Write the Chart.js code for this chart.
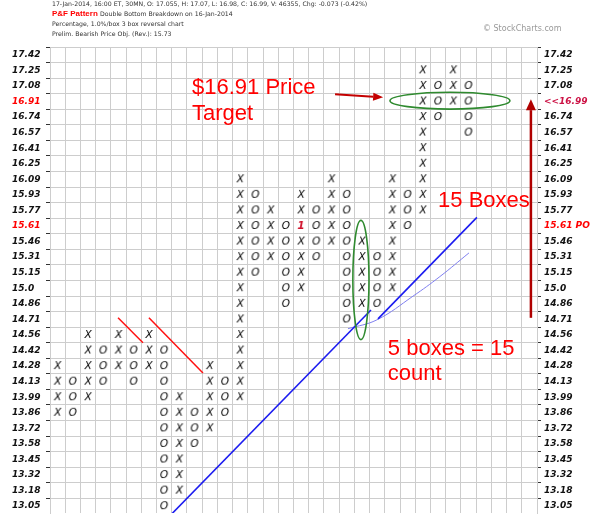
<!DOCTYPE html>
<html>

<head>
    <title>P&F chart</title>
    <meta charset="utf-8">
    <style>
        body { margin: 0; background: #fff; }
    </style>
</head>

<body>
    <canvas id="pnfChart" width="600" height="520"></canvas>

    <script src="https://cdn.jsdelivr.net/npm/chart.js"></script>
    <script>
        // price boxes, top to bottom (row index = position in this list)
        const priceLabels = ['17.42', '17.25', '17.08', '16.91', '16.74', '16.57', '16.41', '16.25', '16.09', '15.93',
            '15.77', '15.61', '15.46', '15.31', '15.15', '15.0', '14.86', '14.71', '14.56', '14.42',
            '14.28', '14.13', '13.99', '13.86', '13.72', '13.58', '13.45', '13.32', '13.18', '13.05'];
        const rightLabels = ['17.42', '17.25', '17.08', '<<16.99', '16.74', '16.57', '16.41', '16.25', '16.09', '15.93',
            '15.77', '15.61 PO', '15.46', '15.31', '15.15', '15.0', '14.86', '14.71', '14.56', '14.42',
            '14.28', '14.13', '13.99', '13.86', '13.72', '13.58', '13.45', '13.32', '13.18', '13.05'];

        // one entry per column of the chart
        const colTypes = ['X', 'O', 'X', 'O', 'X', 'O', 'X', 'O', 'X', 'O', 'X', 'O', 'X', 'O',
            'X', 'O', 'X', 'O', 'X', 'O', 'X', 'O', 'X', 'O', 'X', 'O', 'X', 'O'];
        const colTops = ['14.28', '14.13', '14.56', '14.42', '14.56', '14.42', '14.56', '14.42', '13.99', '13.86',
            '14.28', '14.13', '16.09', '15.93', '15.77', '15.61', '15.93', '15.77', '16.09', '15.93',
            '15.46', '15.31', '16.09', '15.93', '17.25', '17.08', '17.25', '17.08'];
        const colBottoms = ['13.86', '13.86', '13.99', '14.13', '14.28', '14.13', '14.28', '13.05', '13.18', '13.58',
            '13.72', '13.86', '13.99', '15.15', '15.31', '14.86', '15.0', '15.31', '15.46', '14.71',
            '14.86', '14.86', '15.0', '15.61', '15.77', '16.74', '16.91', '16.57'];
        // month markers that replace a box
        const monthCols = [16];
        const monthPrices = ['15.61'];
        const monthNames = ['1'];

        // hand drawn annotations, in (column, row) units
        const blueTrendA = [{ x: 7.3, y: 29.7 }, { x: 20.59, y: 16.4 }];
        const blueTrendB = [{ x: 21.05, y: 16.97 }, { x: 27.55, y: 10.45 }];
        const blueCurve = [{ x: 19.08, y: 17.6 }, { x: 20.98, y: 17.03 }, { x: 23.35, y: 15.51 }, { x: 25.12, y: 14.25 }, { x: 27.03, y: 12.73 }];
        const redTrend1 = [{ x: 3.97, y: 16.9 }, { x: 5.61, y: 18.5 }];
        const redTrend2 = [{ x: 6.0, y: 16.9 }, { x: 9.55, y: 20.45 }];

        const nCols = 32;

        function glyph(ch, color, weight) {
            let c = document.createElement('canvas');
            c.width = 14;
            c.height = 14;
            let g = c.getContext('2d');
            g.font = weight + ' italic 10.5px "DejaVu Sans"';
            g.fillStyle = color;
            g.textAlign = 'center';
            g.textBaseline = 'middle';
            g.fillText(ch, 7, 7.5);
            return c;
        }

        const glyphs = {
            X: glyph('X', '#000', 'normal'),
            O: glyph('O', '#000', 'normal'),
            '1': glyph('1', '#d0102a', 'bold')
        };

        let xBoxes = [];
        let oBoxes = [];
        colTypes.forEach((t, c) => {
            let r0 = priceLabels.indexOf(colTops[c]);
            let r1 = priceLabels.indexOf(colBottoms[c]);
            for (let r = r0; r <= r1; r++) {
                let mark = t;
                let m = monthCols.indexOf(c);
                if (m >= 0 && priceLabels.indexOf(monthPrices[m]) == r) mark = monthNames[m];
                (t == 'X' ? xBoxes : oBoxes).push({ x: c, y: r, mark: mark });
            }
        });

        const gridColor = '#cdcdcd';

        const annotations = {
            id: 'annotations',
            afterDatasetsDraw(chart) {
                const ctx = chart.ctx;
                const xs = chart.scales.x;
                const ys = chart.scales.y;
                const px = (c, r) => [xs.getPixelForValue(c), ys.getPixelForValue(r)];

                function ellipse(c, r, rc, rr) {
                    let [x, y] = px(c, r);
                    let rx = Math.abs(xs.getPixelForValue(c + rc) - x);
                    let ry = Math.abs(ys.getPixelForValue(r + rr) - y);
                    ctx.beginPath();
                    ctx.ellipse(x, y, rx, ry, 0, 0, Math.PI * 2);
                    ctx.strokeStyle = '#2f8a2f';
                    ctx.lineWidth = 1.6;
                    ctx.stroke();
                }

                function arrow(c0, r0, c1, r1, color, w, hl, hw) {
                    let [x0, y0] = px(c0, r0);
                    let [x1, y1] = px(c1, r1);
                    let a = Math.atan2(y1 - y0, x1 - x0);
                    let bx = x1 - hl * Math.cos(a);
                    let by = y1 - hl * Math.sin(a);
                    ctx.strokeStyle = color;
                    ctx.fillStyle = color;
                    ctx.lineWidth = w;
                    ctx.beginPath();
                    ctx.moveTo(x0, y0);
                    ctx.lineTo(bx, by);
                    ctx.stroke();
                    ctx.beginPath();
                    ctx.moveTo(x1, y1);
                    ctx.lineTo(bx + hw / 2 * Math.sin(a), by - hw / 2 * Math.cos(a));
                    ctx.lineTo(bx - hw / 2 * Math.sin(a), by + hw / 2 * Math.cos(a));
                    ctx.closePath();
                    ctx.fill();
                }

                function text(s, c, r) {
                    let [x, y] = px(c, r);
                    ctx.font = '22px "Liberation Sans"';
                    ctx.fillStyle = '#ff0000';
                    ctx.textAlign = 'left';
                    ctx.textBaseline = 'middle';
                    ctx.fillText(s, x, y);
                }

                ctx.save();
                ellipse(19.93, 14.47, 0.53, 3.83);
                ellipse(25.78, 2.95, 3.94, 0.54);
                arrow(18.23, 2.54, 21.39, 2.73, '#c40000', 2, 10, 8);
                arrow(31.1, 16.9, 31.1, 2.85, '#b00000', 2.5, 11, 10);
                text('$16.91 Price', 8.83, 2.16);
                text('Target', 8.83, 3.8);
                text('15 Boxes', 25.0, 9.37);
                text('5 boxes = 15', 21.7, 18.87);
                text('count', 21.7, 20.5);
                ctx.restore();
            }
        };

        const header = {
            id: 'header',
            beforeDraw(chart) {
                const ctx = chart.ctx;
                ctx.save();
                ctx.fillStyle = '#fff';
                ctx.fillRect(0, 0, chart.width, chart.height);
                ctx.textBaseline = 'middle';
                ctx.textAlign = 'left';
                ctx.fillStyle = '#333';
                ctx.font = '6.2px "DejaVu Sans"';
                ctx.fillText('17-Jan-2014, 16:00 ET, 30MN, O: 17.055, H: 17.07, L: 16.98, C: 16.99, V: 46355, Chg: -0.073 (-0.42%)', 52, 4);
                ctx.fillText('Double Bottom Breakdown on 16-Jan-2014', 100, 14);
                ctx.fillText('Percentage, 1.0%/box 3 box reversal chart', 52, 24);
                ctx.fillText('Prelim. Bearish Price Obj. (Rev.): 15.73', 52, 34);
                ctx.font = 'bold 8px "Liberation Sans"';
                ctx.fillStyle = '#ff0000';
                ctx.fillText('P&F Pattern', 52, 14);
                ctx.font = '8px "DejaVu Sans"';
                ctx.fillStyle = '#999';
                ctx.fillText('\u00a9 StockCharts.com', 483, 29);
                ctx.restore();
            }
        };

        const rowTicks = scale => {
            scale.ticks = priceLabels.map((p, i) => ({ value: i }));
        };
        const noPad = scale => {
            scale.paddingTop = 0;
            scale.paddingBottom = 0;
        };
        const labelFont = { family: 'DejaVu Sans', size: 9, style: 'italic', weight: 'bold' };

        const chartCtx = document.getElementById('pnfChart');

        let chart = new Chart(chartCtx, {
            type: 'scatter',
            data: {
                datasets: [{
                    label: 'X',
                    data: xBoxes,
                    pointStyle: ctx => glyphs[ctx.raw ? ctx.raw.mark : 'X'],
                    pointRadius: 6
                }, {
                    label: 'O',
                    data: oBoxes,
                    pointStyle: glyphs.O,
                    pointRadius: 6
                }, {
                    type: 'line',
                    data: redTrend1,
                    borderColor: '#ff1010',
                    borderWidth: 1.5,
                    pointRadius: 0
                }, {
                    type: 'line',
                    data: redTrend2,
                    borderColor: '#ff1010',
                    borderWidth: 1.5,
                    pointRadius: 0
                }, {
                    type: 'line',
                    data: blueTrendA,
                    borderColor: '#1c1cf0',
                    borderWidth: 1.6,
                    pointRadius: 0
                }, {
                    type: 'line',
                    data: blueTrendB,
                    borderColor: '#1c1cf0',
                    borderWidth: 1.6,
                    pointRadius: 0
                }, {
                    type: 'line',
                    data: blueCurve,
                    borderColor: '#8080f0',
                    borderWidth: 1,
                    tension: 0.4,
                    pointRadius: 0
                }]
            },
            options: {
                responsive: false,
                animation: false,
                events: [],
                layout: { padding: { left: 12, top: 47, right: 0, bottom: 0 } },
                plugins: {
                    legend: { display: false },
                    tooltip: { enabled: false }
                },
                scales: {
                    x: {
                        type: 'linear',
                        position: 'bottom',
                        min: -0.5,
                        max: nCols - 0.5,
                        afterBuildTicks: scale => {
                            scale.ticks = Array.from({ length: nCols }, (v, i) => ({ value: i }));
                        },
                        afterFit: scale => { scale.height = 0; },
                        grid: { offset: true, color: gridColor, drawTicks: false },
                        border: { display: false },
                        ticks: { display: false }
                    },
                    y: {
                        type: 'linear',
                        position: 'left',
                        reverse: true,
                        min: -0.5,
                        max: 29.44,
                        afterBuildTicks: rowTicks,
                        afterFit: scale => { scale.width = 38; noPad(scale); },
                        grid: { offset: true, color: gridColor, tickColor: '#333', tickLength: 4 },
                        border: { color: gridColor },
                        ticks: {
                            autoSkip: false,
                            crossAlign: 'far',
                            font: labelFont,
                            color: ctx => (ctx.tick && (ctx.tick.value == 3 || ctx.tick.value == 11)) ? '#ff0000' : '#111',
                            callback: v => priceLabels[v]
                        }
                    },
                    y2: {
                        type: 'linear',
                        position: 'right',
                        reverse: true,
                        min: -0.5,
                        max: 29.44,
                        afterBuildTicks: rowTicks,
                        afterFit: scale => { scale.width = 63; noPad(scale); },
                        grid: { offset: true, drawOnChartArea: false, tickColor: '#333', tickLength: 4 },
                        border: { color: gridColor },
                        ticks: {
                            autoSkip: false,
                            padding: 3,
                            font: labelFont,
                            color: ctx => {
                                if (!ctx.tick) return '#111';
                                if (ctx.tick.value == 3) return '#cc1144';
                                if (ctx.tick.value == 11) return '#ff0000';
                                return '#111';
                            },
                            callback: v => rightLabels[v]
                        }
                    }
                }
            },
            plugins: [header, annotations]
        });
    </script>
</body>

</html>
